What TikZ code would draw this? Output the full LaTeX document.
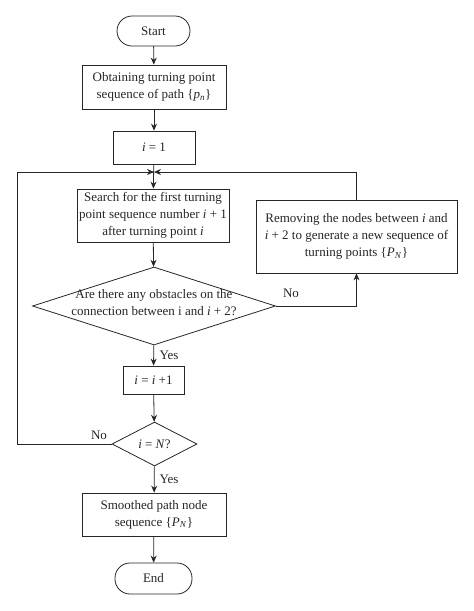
\documentclass[tikz,border=0pt]{standalone}
\usepackage{fontspec}
\setmainfont{Liberation Serif}
\usetikzlibrary{shapes.geometric,arrows.meta}
\newcommand{\mi}[1]{\textit{#1}}
\begin{document}
\begin{tikzpicture}[x=1pt,y=-1pt,
  every node/.style={font=\fontsize{13}{17}\selectfont, text=black!85},
  box/.style={draw=black!85, line width=0.8pt, rectangle, align=center, inner sep=2pt},
  term/.style={draw=black!85, line width=0.8pt, rectangle, rounded corners=15pt, align=center},
  dia/.style={draw=black!85, line width=0.8pt, diamond, inner sep=0pt},
  arr/.style={draw=black!85, line width=0.8pt, -{Stealth[length=7pt,width=6pt]}},
  lbl/.style={font=\fontsize{13}{15}\selectfont}]
\useasboundingbox (0,0) rectangle (474,611);
\node[term, minimum width=73pt, minimum height=30pt] (start) at (153.5,31) {Start};
\node[box, minimum width=144pt, minimum height=44pt] (obt) at (154,87) {Obtaining turning point\\sequence of path \{\mi{p}\textsubscript{\mi{n}}\}};
\node[box, minimum width=82pt, minimum height=33pt] (i1) at (154,147.5) {\mi{i} = 1};
\coordinate (J) at (154,172);
\node[box, minimum width=152pt, minimum height=53pt] (search) at (153,215.5) {Search for the first turning\\point sequence number \mi{i} + 1\\after turning point \mi{i}};
\node[box, minimum width=201pt, minimum height=73pt] (rem) at (356.5,236.5) {Removing the nodes between \mi{i} and\\\mi{i} + 2 to generate a new sequence of\\turning points \{\mi{P}\textsubscript{\mi{N}}\}};
\node[dia, minimum width=243pt, minimum height=78pt] (d1) at (154,306) {};
\node[align=center] (d1t) at (154,303) {Are there any obstacles on the\\connection between i and \mi{i} + 2?};
\node[box, minimum width=61pt, minimum height=28pt] (i2) at (153.5,380) {\mi{i} = \mi{i} +1};
\node[dia, minimum width=85pt, minimum height=44pt] (d2) at (154.5,444) {};
\node (d2t) at (154.5,444) {\mi{i} = \mi{N}?};
\node[box, minimum width=144pt, minimum height=43pt] (sm) at (154,514.5) {Smoothed path node\\sequence \{\mi{P}\textsubscript{\mi{N}}\}};
\node[term, minimum width=77pt, minimum height=31pt] (end) at (153.5,578.5) {End};
\coordinate (lc) at (17,172);
\draw[arr] (start) -- (obt);
\draw[arr] (obt) -- (i1);
\draw[arr] (i1) -- (search);
\draw[arr] (search) -- (d1);
\draw[arr] (d1.east) -| (rem.south);
\draw[arr] (rem.north) |- (J);
\draw[arr] (d1) -- (i2);
\draw[arr] (i2) -- (d2);
\draw[arr] (d2.west) -| (lc) -- (J);
\draw[arr] (d2) -- (sm);
\draw[arr] (sm) -- (end);
\node[lbl] (no1) at (291,293) {No};
\node[lbl] (yes1) at (169,355) {Yes};
\node[lbl] (no2) at (99,435) {No};
\node[lbl] (yes2) at (169,479) {Yes};
\end{tikzpicture}
\end{document}
